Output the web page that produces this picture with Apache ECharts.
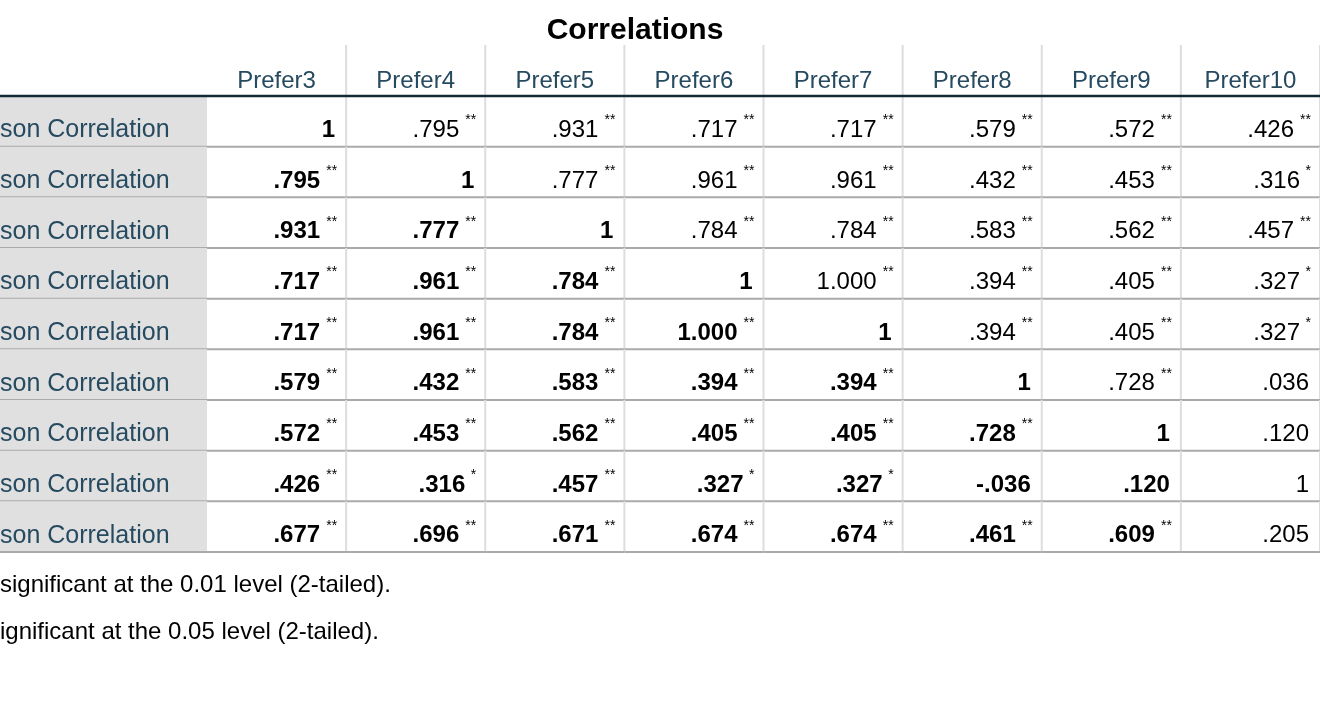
<!DOCTYPE html><html><head><meta charset="utf-8">
<script src="https://cdn.jsdelivr.net/npm/echarts@6/dist/echarts.min.js"></script>
<style>html,body{margin:0;background:#fff}#c{width:1320px;height:721px}</style></head><body><div id="c"></div>
<script>
const title = 'Correlations';
const columns = ['Prefer3','Prefer4','Prefer5','Prefer6','Prefer7','Prefer8','Prefer9','Prefer10'];
const rowLabels = Array(9).fill('son Correlation');
const values = [
 ['1','.795','.931','.717','.717','.579','.572','.426'],
 ['.795','1','.777','.961','.961','.432','.453','.316'],
 ['.931','.777','1','.784','.784','.583','.562','.457'],
 ['.717','.961','.784','1','1.000','.394','.405','.327'],
 ['.717','.961','.784','1.000','1','.394','.405','.327'],
 ['.579','.432','.583','.394','.394','1','.728','.036'],
 ['.572','.453','.562','.405','.405','.728','1','.120'],
 ['.426','.316','.457','.327','.327','-.036','.120','1'],
 ['.677','.696','.671','.674','.674','.461','.609','.205']
];
const sig = [
 ['','**','**','**','**','**','**','**'],
 ['**','','**','**','**','**','**','*'],
 ['**','**','','**','**','**','**','**'],
 ['**','**','**','','**','**','**','*'],
 ['**','**','**','**','','**','**','*'],
 ['**','**','**','**','**','','**',''],
 ['**','**','**','**','**','**','',''],
 ['**','*','**','*','*','','',''],
 ['**','**','**','**','**','**','**','']
];
const footnotes = ['significant at the 0.01 level (2-tailed).','ignificant at the 0.05 level (2-tailed).'];

const FONT='"Liberation Sans", Arial, sans-serif';
const data=[];
values.forEach((r,i)=>r.forEach((v,j)=>data.push([j,i,v,sig[i][j]])));
const rowData=rowLabels.map((l,i)=>[i,l]);
const chart=echarts.init(document.getElementById('c'));
chart.setOption({
 animation:false,
 title:{text:title,left:630,textAlign:'center',top:11,textStyle:{fontFamily:FONT,fontSize:30,fontWeight:'bold',color:'#000'}},
 grid:[{left:207,top:96,width:1122,height:456},{left:0,top:96,width:207,height:456}],
 xAxis:[{type:'category',data:columns,position:'top',gridIndex:0,axisLine:{show:false},axisTick:{show:false},
   axisLabel:{fontFamily:FONT,fontSize:24,color:'#264a60',margin:3}},
   {type:'category',data:['x'],gridIndex:1,show:false}],
 yAxis:[{type:'category',data:rowLabels.map((l,i)=>i),inverse:true,gridIndex:0,show:false},
   {type:'category',data:rowLabels.map((l,i)=>i),inverse:true,gridIndex:1,show:false}],
 series:[
 {type:'custom',xAxisIndex:1,yAxisIndex:1,data:rowData.map(d=>[0,d[0],d[1]]),
  renderItem:(p,api)=>{const c=api.coord([0,api.value(1)]);const s=api.size([1,1]);
   return {type:'group',children:[
    {type:'rect',shape:{x:0,y:c[1]-s[1]/2,width:207,height:s[1]},style:{fill:'#e0e0e0'}},
    {type:'line',shape:{x1:0,y1:c[1]+s[1]/2,x2:207,y2:c[1]+s[1]/2},style:{stroke:'#aaaaaa',lineWidth:2}},
    {type:'text',style:{text:api.value(2),x:0,y:c[1]+9,fontFamily:FONT,fontSize:25,fill:'#264a60',verticalAlign:'middle'}}]};}},
 {type:'custom',data:data,
  renderItem:(p,api)=>{const j=api.value(0),i=api.value(1);const c=api.coord([j,i]);const s=api.size([1,1]);
   const right=c[0]+s[0]/2, top=c[1]-s[1]/2, bot=c[1]+s[1]/2;
   const st=data[p.dataIndex][3], txt=data[p.dataIndex][2];
   const bold=(i>=j && j<7);
   const sw=st==='**'?15:(st==='*'?9:0);
   const ch=[
    {type:'line',shape:{x1:right,y1:top,x2:right,y2:bot},style:{stroke:'#dddddd',lineWidth:2}},
    {type:'line',shape:{x1:c[0]-s[0]/2,y1:bot,x2:right,y2:bot},style:{stroke:'#aaaaaa',lineWidth:2}},
    {type:'text',style:{text:txt,x:right-11-sw,y:c[1]+9,align:'right',verticalAlign:'middle',fontFamily:FONT,fontSize:24,fontWeight:bold?'bold':'normal',fill:'#000'}}];
   if(sw) ch.push({type:'text',style:{text:st,x:right-9,y:c[1]-1,align:'right',verticalAlign:'middle',fontFamily:FONT,fontSize:14,fill:'#000'}});
   if(i===0) ch.push({type:'line',shape:{x1:right,y1:45,x2:right,y2:top},style:{stroke:'#dddddd',lineWidth:2}});
   return {type:'group',children:ch};}}
 ],
 graphic:[
  {type:'line',shape:{x1:0,y1:96,x2:1320,y2:96},style:{stroke:'#152935',lineWidth:2.5},z:100},
  {type:'text',left:0,top:573,style:{text:footnotes[0],fontFamily:FONT,fontSize:24,fill:'#000'}},
  {type:'text',left:0,top:620,style:{text:footnotes[1],fontFamily:FONT,fontSize:24,fill:'#000'}}
 ]
});
</script></body></html>
